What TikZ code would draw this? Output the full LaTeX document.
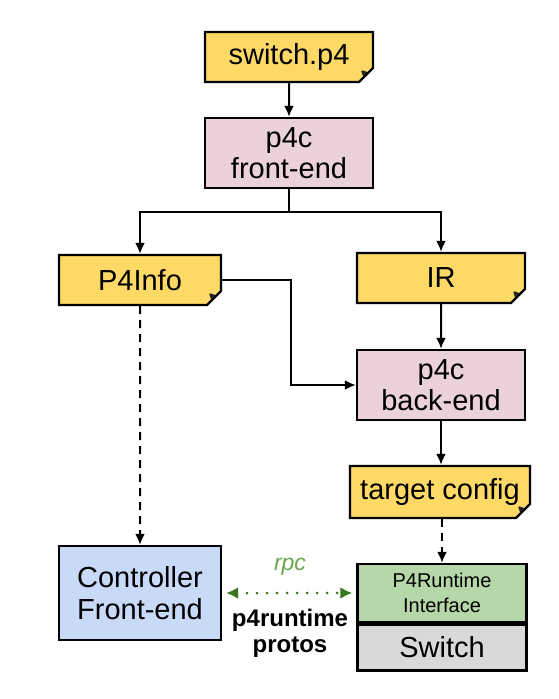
\documentclass[tikz,border=0pt]{standalone}
\usepackage{fontspec}
\setmainfont{Liberation Sans}
\usetikzlibrary{positioning,arrows.meta,shapes.misc}
\definecolor{fileyellow}{HTML}{FFD966}
\definecolor{p4cpink}{HTML}{EAD1DC}
\definecolor{ctlblue}{HTML}{C9DAF8}
\definecolor{rtgreen}{HTML}{B6D7A8}
\definecolor{swgray}{HTML}{D9D9D9}
\definecolor{rpcgreen}{HTML}{38761D}
\definecolor{rpclabel}{HTML}{6AA84F}

\begin{document}
\begin{tikzpicture}[x=0.5pt,y=-0.5pt,>={Latex[length=5.5pt,width=5pt]},line width=1pt,
        box/.style={draw,line width=1.2pt,minimum width=84pt,align=center,inner sep=0pt,
            font=\fontsize{14.5}{15.5}\selectfont},
        file/.style={box,chamfered rectangle,chamfered rectangle corners=south east,
            chamfered rectangle xsep=3.5pt,chamfered rectangle ysep=3.5pt,
            fill=fileyellow,minimum height=25pt,
            path picture={\fill[black!85] ([xshift=-3.5pt]path picture bounding box.south east)
                .. controls ([xshift=-7pt,yshift=7pt]path picture bounding box.south east)
                .. ([yshift=3.5pt]path picture bounding box.south east) -- cycle;}},
        pass/.style={box,fill=p4cpink,minimum height=35pt},
        dash line/.style={dash pattern=on 4pt off 3pt}]
        \useasboundingbox (0,0) rectangle (558,699);
        % compiler
        \node[file] (sw) at (289,57) {switch.p4};
        \node[pass] (fe) at (289,153) {p4c\\front-end};
        \node[file,minimum width=81pt] (info) at (140,280) {P4Info};
        \node[file] (ir) at (441,278) {IR};
        \node[pass] (be) at (441,385) {p4c\\back-end};
        \node[file,minimum width=90pt,minimum height=26pt] (tc) at (440,492) {target config};
        % runtime
        \node[box,fill=ctlblue,minimum width=81pt,minimum height=47pt,
            font=\fontsize{14.5}{16}\selectfont] (ctl) at (140,593) {Controller\\Front-end};
        \node[box,fill=rtgreen,minimum width=84.5pt,minimum height=29pt,
            font=\fontsize{10}{12.5}\selectfont] (rt) at (442,593) {P4Runtime\\Interface};
        \node[box,fill=swgray,minimum width=84.5pt,minimum height=23pt,anchor=north] (swb) at (rt.south) {Switch};
        \node[font=\fontsize{11.5}{13}\selectfont\itshape,text=rpclabel] (rpc) at (290,567) {rpc};
        \node[font=\fontsize{12}{13}\selectfont\bfseries,align=center] (protos) at (290,633) {p4runtime\\protos};

        \coordinate (split) at (289,212);
        \draw[->] (sw) -- (fe);
        \draw (fe) -- (split);
        \draw[->] (split) -| (info.north);
        \draw[->] (split) -| (ir.north);
        \draw[->] (ir) -- (be);
        \draw[->] (info.east) -- ++(69,0) |- (be.west);
        \draw[->] (be.south) -- (be.south |- tc.north);
        \draw[->,dash line] (tc.south -| rt.north) -- (rt.north);
        \draw[->,dash line] (info) -- (ctl);
        \draw[<->,rpcgreen,line width=1.5pt,line cap=round,dash pattern=on 0pt off 5pt,
            shorten <=2pt,shorten >=2pt,>={Latex[length=6pt,width=6pt]}] (ctl) -- (rt);
    \end{tikzpicture}
\end{document}
